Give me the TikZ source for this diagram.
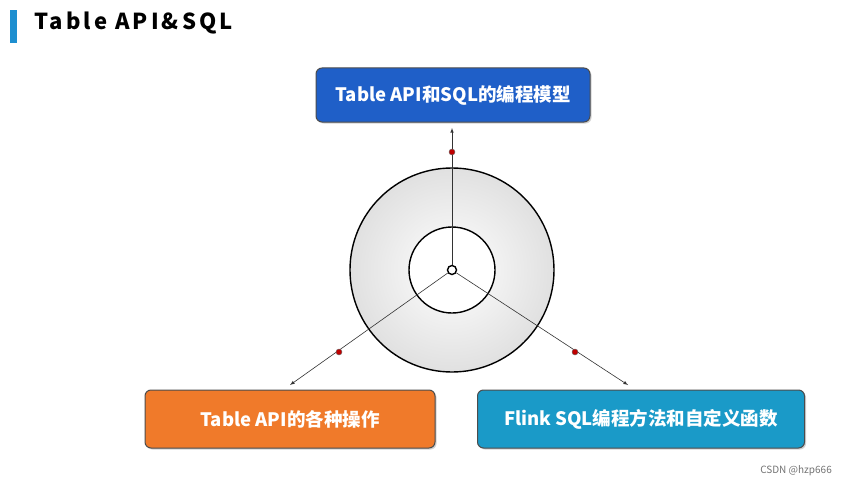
\documentclass[tikz,border=0pt]{standalone}
\usepackage{fontspec}
\setmainfont{Noto Sans CJK SC}
\usetikzlibrary{shadows}
\definecolor{topblue}{HTML}{1F5FC8}
\definecolor{orng}{HTML}{F07A2A}
\definecolor{teal}{HTML}{1A9AC8}
\definecolor{bar}{HTML}{1E8FD0}
\tikzset{
  box/.style={draw=black!70, line width=1pt, rounded corners=6pt, inner sep=0pt, text=white, font=\bfseries\fontsize{18.5}{22}\selectfont, drop shadow={opacity=0.35,shadow xshift=1.5pt,shadow yshift=-1.5pt}},
  arr/.style={-latex, black!80, line width=0.6pt},
  rdot/.style={circle, fill=red!75!black, draw=black!60, inner sep=0pt, minimum size=6pt}
}
\begin{document}
\begin{tikzpicture}[x=1pt,y=-1pt]
\useasboundingbox (0,0) rectangle (846,487);
\fill[white] (0,0) rectangle (846,487);
\fill[bar] (10,10) rectangle (17,43);
\node[anchor=west, font=\bfseries\fontsize{22}{24}\selectfont\addfontfeature{LetterSpace=14}, inner sep=0pt] (title) at (34,23) {Table API\&SQL};
\node[circle, draw=black, line width=1.4pt, minimum size=204pt, inner sep=0pt, inner color=white, outer color=black!12] (outer) at (452,270) {};
\node[circle, draw=black, line width=1.4pt, minimum size=86pt, inner sep=0pt, fill=white] (inner) at (452,270) {};
\node[circle, draw=black, line width=1.4pt, fill=white, minimum size=9pt, inner sep=0pt] (c) at (452,270) {};
\node[box, fill=topblue, minimum width=274pt, minimum height=54pt] (top) at (453,95) {Table API和SQL的编程模型};
\node[box, fill=orng, minimum width=290pt, minimum height=58pt] (left) at (290,419) {Table API的各种操作};
\node[box, fill=teal, minimum width=327pt, minimum height=58pt] (right) at (641,419) {Flink SQL编程方法和自定义函数};
\coordinate (ta) at (452,128);
\coordinate (la) at (290,385);
\coordinate (ra) at (628,385);
\draw[arr] (c) -- (ta);
\draw[arr] (c) -- (la);
\draw[arr] (c) -- (ra);
\node[rdot] (d1) at (452,152) {};
\node[rdot] (d2) at (339,352) {};
\node[rdot] (d3) at (575,352) {};
\node[anchor=east, text=black!55, font=\fontsize{10}{12}\selectfont, inner sep=0pt] (wm) at (832,471) {CSDN @hzp666};
\end{tikzpicture}
\end{document}
